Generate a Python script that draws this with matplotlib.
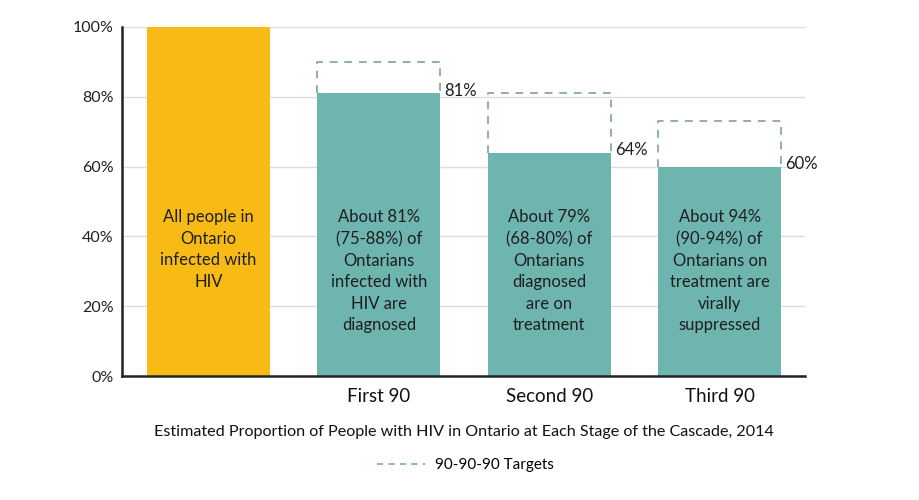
import matplotlib.pyplot as plt
from matplotlib.lines import Line2D

plt.rcParams['font.family'] = ['Lato', 'DejaVu Sans']

# data
stages = ['', 'First 90', 'Second 90', 'Third 90']
values = [100, 81, 64, 60]
targets = [None, 90, 81, 73]
value_labels = ['', '81%', '64%', '60%']
bar_texts = [
    'All people in\nOntario\ninfected with\nHIV',
    'About 81%\n(75-88%) of\nOntarians\ninfected with\nHIV are\ndiagnosed',
    'About 79%\n(68-80%) of\nOntarians\ndiagnosed\nare on\ntreatment',
    'About 94%\n(90-94%) of\nOntarians on\ntreatment are\nvirally\nsuppressed',
]
yticks = [0, 20, 40, 60, 80, 100]

yellow = '#F8BB16'
teal = '#6EB5B0'
dash_col = '#8FAFAA'
dark = '#1e1e1e'

fig = plt.figure(figsize=(9.19, 5), dpi=100)
ax = fig.add_axes([0.1328, 0.248, 0.743, 0.698])

w = 0.72
x = list(range(len(values)))
colors = [yellow] + [teal] * (len(values) - 1)
ax.bar(x, values, width=w, color=colors, zorder=2)

for i in x:
    ax.text(i, 47.8, bar_texts[i], ha='center', va='top', color=dark,
            fontsize=12, linespacing=1.43, zorder=3)
    if targets[i] is not None:
        left, right = i - w / 2, i + w / 2
        ax.plot([left, left, right, right], [values[i], targets[i], targets[i], values[i]],
                ls=(0, (4, 3.5)), color=dash_col, lw=1.4, zorder=3, clip_on=False)
        ax.text(right + 0.025, values[i] + 0.8, value_labels[i], ha='left', va='center',
                fontsize=12, color=dark)

ax.set_xlim(-0.507, 3.50)
ax.set_ylim(0, 100)
ax.set_yticks(yticks)
ax.set_yticklabels([f'{t}%' for t in yticks], fontsize=11.5, color='#222222')
ax.set_xticks(x)
ax.set_xticklabels(stages, fontsize=13.5, color='#111111')
ax.tick_params(axis='both', length=0)
ax.tick_params(axis='x', pad=9)
ax.tick_params(axis='y', pad=6)
ax.grid(axis='y', color='#dddddd', lw=1, zorder=0)
for s in ['top', 'right']:
    ax.spines[s].set_visible(False)
ax.spines['left'].set_linewidth(1.8)
ax.spines['bottom'].set_linewidth(1.8)
ax.spines['left'].set_color('#222222')
ax.spines['bottom'].set_color('#222222')

fig.text(0.505, 0.136, 'Estimated Proportion of People with HIV in Ontario at Each Stage of the Cascade, 2014',
         ha='center', va='center', fontsize=11.6, color='#111111')

handle = Line2D([0], [0], color='#8CBDB5', lw=1.5, ls=(0, (3, 2.5)))
fig.legend([handle], ['90-90-90 Targets'], loc='center', bbox_to_anchor=(0.506, 0.07),
           frameon=False, fontsize=11, handlelength=3.2, handletextpad=0.6)

fig.savefig('out.png', dpi=100)
